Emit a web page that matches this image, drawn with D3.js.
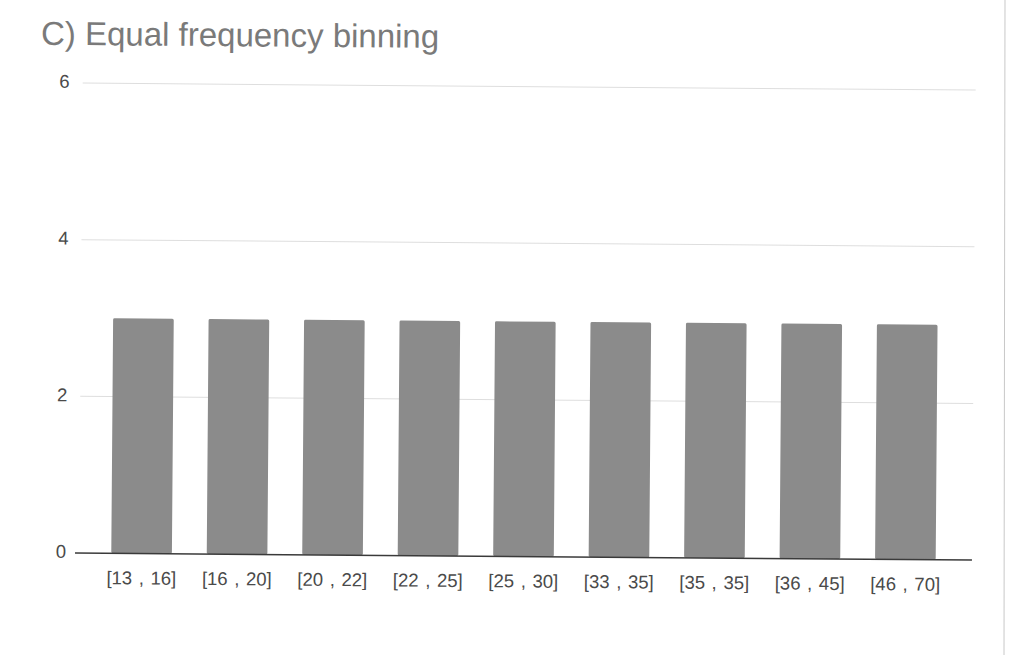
<!DOCTYPE html>
<html>
<head>
<meta charset="utf-8">
<script src="https://cdn.jsdelivr.net/npm/d3@7"></script>
<style>
  html, body { margin: 0; padding: 0; background: #fff; }
  svg { display: block; }
</style>
</head>
<body>
<svg id="chart" width="1024" height="670"></svg>
<script>
/* Equal frequency binning: nine bins, three items each */
const binLabels = ['[13 , 16]', '[16 , 20]', '[20 , 22]', '[22 , 25]', '[25 , 30]',
                   '[33 , 35]', '[35 , 35]', '[36 , 45]', '[46 , 70]'];
const binCounts = [3, 3, 3, 3, 3, 3, 3, 3, 3];
const yTicks = [0, 2, 4, 6];
const titleText = 'C) Equal frequency binning';

const W = 1024, H = 670;
const m = { t: 83, r: 52, b: 117, l: 75 };
const font = 'Arial, "Liberation Sans", sans-serif';

const svg = d3.select('#chart');
// the scan sits a touch crooked
const g = svg.append('g').attr('transform', 'rotate(0.45 75 553)');

const x = d3.scaleBand().domain(binLabels)
  .range([m.l, W - m.r]).paddingInner(0.365).paddingOuter(0.38);
const y = d3.scaleLinear().domain([0, 6]).range([H - m.b, m.t]);

// title
g.append('text').attr('x', 37).attr('y', 45)
  .attr('font-family', font).attr('font-size', 33)
  .attr('fill', '#7a7a7a').text(titleText);

// gridlines + y labels
yTicks.forEach(v => {
  if (v > 0) {
    g.append('line').attr('x1', m.l + 4).attr('x2', W - m.r)
      .attr('y1', y(v)).attr('y2', y(v))
      .attr('stroke', '#dedede').attr('stroke-width', 1);
  }
  g.append('text').attr('x', 66).attr('y', y(v) + 5)
    .attr('text-anchor', 'end')
    .attr('font-family', font).attr('font-size', 18.5)
    .attr('fill', '#4a4a4a').text(v);
});

// bars
g.selectAll('rect.bar').data(binCounts).join('rect')
  .attr('class', 'bar')
  .attr('x', (d, i) => x(binLabels[i]))
  .attr('width', x.bandwidth())
  .attr('y', d => y(d))
  .attr('height', d => y(0) - y(d))
  .attr('rx', 1.5)
  .attr('fill', '#8b8b8b');

// baseline
g.append('line').attr('x1', m.l).attr('x2', W - m.r)
  .attr('y1', y(0)).attr('y2', y(0))
  .attr('stroke', '#3a3a3a').attr('stroke-width', 1.5);

// x labels
g.selectAll('text.xl').data(binLabels).join('text')
  .attr('class', 'xl')
  .attr('x', d => x(d) + x.bandwidth() / 2)
  .attr('y', y(0) + 31)
  .attr('text-anchor', 'middle')
  .attr('font-family', font).attr('font-size', 18.5)
  .attr('word-spacing', 1.5)
  .attr('fill', '#4a4a4a').text(d => d);

// page edge from the scan
svg.append('line').attr('x1', 1005).attr('x2', 1004)
  .attr('y1', 0).attr('y2', 655)
  .attr('stroke', '#c8c8c8').attr('stroke-width', 1);
</script>
</body>
</html>
